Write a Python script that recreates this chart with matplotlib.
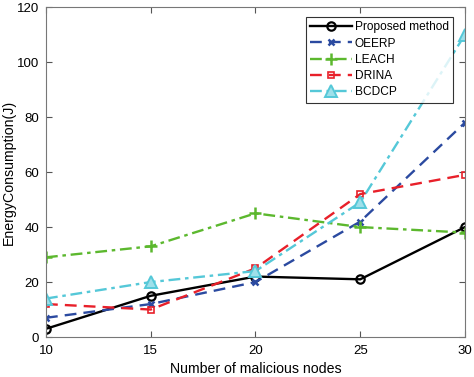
import numpy as np
import matplotlib
matplotlib.use('Agg')
import matplotlib.pyplot as plt

plt.rcParams['font.family'] = ['Liberation Sans', 'DejaVu Sans']

nodes = [10, 15, 20, 25, 30]
proposed = [3, 15, 22, 21, 40]
oeerp = [7, 12, 20, 42, 78]
leach = [29, 33, 45, 40, 38]
drina = [12, 10, 25, 52, 59]
bcdcp = [14, 20, 24, 49, 110]

fig = plt.figure(figsize=(4.74, 3.77), dpi=100)
ax = fig.add_axes([0.097, 0.106, 0.884, 0.875])

ax.plot(nodes, proposed, color='black', ls='-', lw=1.7, marker='o', ms=6,
        mfc='none', mew=1.6, label='Proposed method')
ax.plot(nodes, oeerp, color='#2b4aa0', ls=(0, (5, 3)), lw=1.7, marker='x', ms=5,
        mew=1.8, label='OEERP')
ax.plot(nodes, leach, color='#5cb82e', ls=(0, (5, 2, 1.5, 2)), lw=1.7, marker='+', ms=8,
        mew=1.8, label='LEACH')
ax.plot(nodes, drina, color='#e8202a', ls=(0, (5, 3)), lw=1.7, marker='s', ms=5,
        mfc='none', mew=1.2, label='DRINA')
ax.plot(nodes, bcdcp, color='#55c8d8', ls=(0, (5, 2, 1.5, 2)), lw=1.7, marker='^', ms=8,
        mfc='#9ee0ea', mew=1.4, label='BCDCP')

ax.set_xlim(10, 30)
ax.set_ylim(0, 120)
ax.set_xticks(nodes)
ax.set_yticks(np.arange(0, 121, 20))
ax.tick_params(direction='in', labelsize=9.5, color='#555555', length=4,
               top=True, right=True)
ax.tick_params(axis='x', pad=6)
ax.tick_params(axis='y', pad=5)
for s in ax.spines.values():
    s.set_color('#777777')
ax.set_xlabel('Number of malicious nodes', fontsize=10.2, labelpad=3)
ax.set_ylabel('EnergyConsumption(J)', fontsize=10.2)
ax.yaxis.set_label_coords(-0.072, 0.5)

leg = ax.legend(loc='upper right', bbox_to_anchor=(0.971, 0.97), fontsize=8.6,
                frameon=True, fancybox=False, edgecolor='black',
                borderaxespad=0, handlelength=3.5, labelspacing=0.36,
                borderpad=0.35, handletextpad=0.2)
leg.get_frame().set_linewidth(0.8)

fig.savefig('out.png', dpi=100)
